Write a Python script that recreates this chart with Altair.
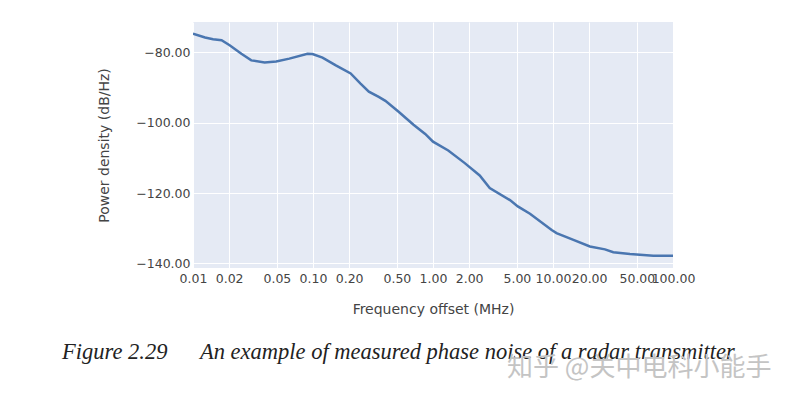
import altair as alt
import pandas as pd

freq_mhz = [0.01, 0.0126, 0.0147, 0.0173, 0.0202, 0.0253, 0.0306, 0.0395, 0.0493, 0.0635,
            0.090, 0.099, 0.12, 0.155, 0.206, 0.249, 0.292, 0.353, 0.401, 0.517,
            0.688, 0.861, 1.0, 1.34, 1.84, 2.45, 2.97, 4.38, 5.09, 6.43,
            9.75, 10.7, 14.8, 20.3, 27.1, 31.8, 43.8, 68.5, 100.0]
power_db = [-74.7, -75.8, -76.3, -76.6, -78.0, -80.4, -82.3, -82.9, -82.6, -81.8,
            -80.4, -80.5, -81.5, -83.7, -86.0, -88.9, -91.2, -92.7, -93.8, -96.9,
            -100.6, -103.2, -105.4, -107.9, -111.5, -115.0, -118.6, -122.0, -123.8, -125.9,
            -130.5, -131.4, -133.3, -135.2, -136.0, -136.8, -137.3, -137.8, -137.8]

x_ticks = [0.01, 0.02, 0.05, 0.1, 0.2, 0.5, 1, 2, 5, 10, 20, 50, 100]
y_ticks = [-80, -100, -120, -140]
x_title = "Frequency offset (MHz)"
y_title = "Power density (dB/Hz)"
caption_num = ["Figure 2.29"]
caption_text = ["An example of measured phase noise of a radar transmitter"]
watermark = ["知乎 @关中电科小能手"]

df = pd.DataFrame({"f": freq_mhz, "p": power_db})

line = alt.Chart(df).mark_line(color="#4a76b0", strokeWidth=2.5, clip=True).encode(
    x=alt.X("f:Q",
            scale=alt.Scale(type="log", domain=[0.01, 100], nice=False),
            axis=alt.Axis(values=x_ticks, format=".2f", labelOverlap=False, labelFlush=False,
                          labelBound=False, title=x_title, labelPadding=4,
                          titleY=41, titleBaseline="middle")),
    y=alt.Y("p:Q",
            scale=alt.Scale(domain=[-141.3, -71.4], nice=False, zero=False),
            axis=alt.Axis(values=y_ticks, format=".2f", title=y_title, labelPadding=3,
                          titleAngle=270, titleX=-89, titleY=123,
                          titleAlign="center", titleBaseline="middle")),
)

cap1 = alt.Chart(pd.DataFrame({"t": caption_num})).mark_text(
    align="left", baseline="middle", font="Liberation Serif", fontStyle="italic",
    fontSize=22.5, color="#222222").encode(x=alt.value(-131), y=alt.value(330), text="t:N")

cap2 = alt.Chart(pd.DataFrame({"t": caption_text})).mark_text(
    align="left", baseline="middle", font="Liberation Serif", fontStyle="italic",
    fontSize=22.5, color="#222222").encode(x=alt.value(7), y=alt.value(330), text="t:N")

wm = alt.Chart(pd.DataFrame({"t": watermark})).mark_text(
    align="left", baseline="middle", font="Noto Sans CJK SC", fontSize=26,
    color="#c4c4c4").encode(x=alt.value(314), y=alt.value(346), text="t:N")

chart = alt.layer(line, cap1, cap2, wm).properties(
    width=480, height=246,
    autosize=alt.AutoSizeParams(type="none"),
    padding={"left": 185, "top": 14, "right": 100, "bottom": 120},
    background="white",
).configure_view(fill="#E5EAF4", stroke=None).configure_axis(
    domain=False, ticks=False, gridColor="white", gridWidth=1,
    labelFont="DejaVu Sans", labelFontSize=12.5, labelColor="#444444",
    titleFont="DejaVu Sans", titleFontSize=14, titleFontWeight="normal", titleColor="#444444",
)

chart.save("out.html", embed_options={"renderer": "svg", "actions": False})
